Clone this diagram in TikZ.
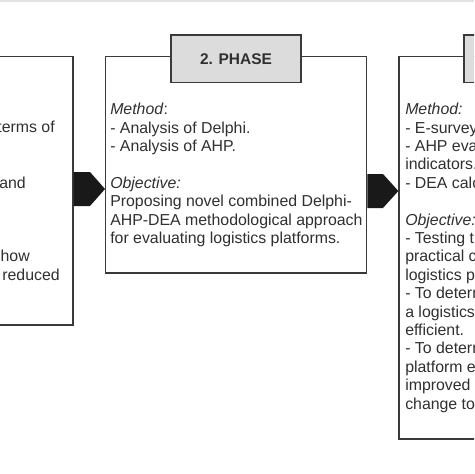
\documentclass[tikz,border=0pt]{standalone}
\usepackage{fontspec}
\setmainfont{Liberation Sans}
\usetikzlibrary{fit,calc}
\definecolor{edge}{HTML}{3A3A3A}
\definecolor{hdr}{HTML}{DCDCDC}
\definecolor{ink}{HTML}{303030}
\definecolor{band}{HTML}{E2E2E2}
\begin{document}
\begin{tikzpicture}[x=0.75pt,y=-0.75pt,
  box/.style={draw=edge, line width=1pt, fill=white, inner sep=0pt},
  hdrbox/.style={draw=edge, line width=1pt, fill=hdr, inner sep=0pt},
  txt/.style={text=ink, font=\fontsize{11.9}{13.8}\selectfont, inner sep=0pt, align=left},
  hdrtxt/.style={text=ink, font=\fontsize{11.6}{13.8}\selectfont\bfseries, inner sep=0pt},
  blockarrow/.style={fill=black!90, draw=none}]
\useasboundingbox (0,0) rectangle (474,474);
\clip (0,0) rectangle (474,474);
\fill[band] (0,0) rectangle (474,2.5);
% boxes
\node[box, fit={(-200,56.7) (73,325)}] (L) {};
\node[box, fit={(105.7,56.7) (366.7,273)}] (M) {};
\node[box, fit={(399,56.7) (620,439)}] (R) {};
% headers
\node[hdrbox, fit={(171,35) (301,82.5)}] (H2) {};
\node[hdrtxt] (H2t) at (H2.center) {2. PHASE};
\node[hdrbox, fit={(464,35) (594,82.5)}] (H3) {};
% block arrows
\fill[blockarrow] (L.east |- 0,172) -- (90,172) -- (M.west |- 0,189) -- (90,206) -- (L.east |- 0,206) -- cycle;
\fill[blockarrow] (M.east |- 0,174) -- (383,174) -- (R.west |- 0,191) -- (383,208) -- (M.east |- 0,208) -- cycle;
% left box fragments
\node[txt, anchor=base east] (L1) at (55,132.9) {terms of};
\node[txt, anchor=base east] (L2) at (26,188.1) {and};
\node[txt, anchor=base east] (L3) at (30,261.7) {how};
\node[txt, anchor=base east] (L4) at (60,280.1) {reduced};
% middle box text
\node[txt, anchor=north west] (Mt) at (110,103) {\textit{Method}:\\- Analysis of Delphi.\\- Analysis of AHP.\\[13.8pt]\textit{Objective:}\\Proposing novel combined Delphi-\\AHP-DEA methodological approach\\for evaluating logistics platforms.};
% right box text
\node[txt, anchor=north west] (Rt) at (405,103) {\textit{Method:}\\- E-survey\\- AHP evaluation\\indicators.\\- DEA calculation\\[13.8pt]\textit{Objective:}\\- Testing the\\practical case\\logistics platform\\- To determine\\a logistics platform\\efficient.\\- To determine\\platform efficiency\\improved\\change to};
\end{tikzpicture}
\end{document}
